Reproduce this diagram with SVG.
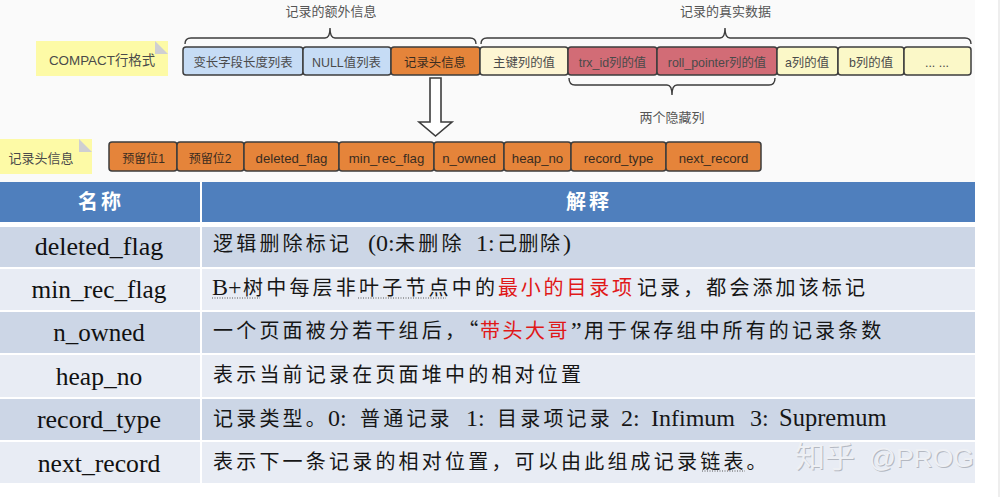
<svg xmlns="http://www.w3.org/2000/svg" width="1000" height="497" viewBox="0 0 1000 497">
<style>
.sans{font-family:"Liberation Sans","Noto Sans CJK SC",sans-serif}
.box{stroke:#3d3d3d;stroke-width:1.5}
.blue{fill:#c6dcf5}.org{fill:#e5843a}.cream{fill:#fdf5d3}.red{fill:#d26c76}.yel{fill:#fbf8c8}
.lbl{font-size:12.400px;fill:#4a4a4a;text-anchor:middle}
.cap{font-size:13px;fill:#555;text-anchor:middle}
.olbl{font-size:12.400px;fill:#3a2c20;text-anchor:middle}
.oL{font-size:13.200px}
.note{fill:#fdfaa6}.fold{fill:#cfcfd2}
.brace{fill:none;stroke:#3d3d3d;stroke-width:1.4}
.rowA{fill:#ccd6e6}.rowB{fill:#e8ecf4}
.name{font-family:"Liberation Serif","Noto Serif CJK SC",serif;font-size:26px;fill:#111;text-anchor:middle}
.desc{font-family:"Noto Sans CJK SC",sans-serif;font-size:20px;fill:#161616;letter-spacing:3.2px}
.lat{font-family:"Liberation Serif",serif;font-size:24px;letter-spacing:0}
.hd{font-family:"Noto Sans CJK SC",sans-serif;font-size:20px;font-weight:700;fill:#fff;text-anchor:middle;letter-spacing:3px}
.r{fill:#e01818}
.dot{stroke:#555;stroke-width:1;stroke-dasharray:1 1.5}
</style>
<rect width="1000" height="497" fill="#fff"/>
<rect width="975" height="182" fill="#fafafa"/>
<rect x="998" width="2" height="497" fill="#eee"/>
<g id="note-compact"><rect class="note" x="36" y="41" width="132" height="35"/><path class="fold" d="M155 41L168 54H155Z"/><text class="sans" x="102" y="65" font-size="13.400" fill="#4a4a4a" text-anchor="middle">COMPACT行格式</text></g>
<g id="note-header"><rect class="note" x="0" y="139" width="92" height="35"/><path class="fold" d="M79 139L92 152H79Z"/><text class="sans" x="41" y="163" font-size="13" fill="#4a4a4a" text-anchor="middle">记录头信息</text></g>
<g id="compact-row" class="sans">
<g id="c1"><rect class="box blue" x="183" y="47" width="120" height="28" rx="3"/><text class="lbl" x="243" y="67">变长字段长度列表</text></g>
<g id="c2"><rect class="box blue" x="303" y="47" width="88" height="28" rx="3"/><text class="lbl" x="346.500" y="67">NULL值列表</text></g>
<g id="c3"><rect class="box org" x="391" y="47" width="89" height="28" rx="3"/><text class="olbl" x="435" y="67">记录头信息</text></g>
<g id="c4"><rect class="box cream" x="480" y="47" width="88" height="28" rx="3"/><text class="lbl" x="524" y="67">主键列的值</text></g>
<g id="c5"><rect class="box red" x="568" y="47" width="89" height="28" rx="3"/><text class="lbl" x="612.500" y="67">trx_id列的值</text></g>
<g id="c6"><rect class="box red" x="657" y="47" width="120" height="28" rx="3"/><text class="lbl" x="717" y="67">roll_pointer列的值</text></g>
<g id="c7"><rect class="box yel" x="777" y="47" width="61" height="28" rx="3"/><text class="lbl" x="807" y="67">a列的值</text></g>
<g id="c8"><rect class="box yel" x="838" y="47" width="66" height="28" rx="3"/><text class="lbl" x="871" y="67">b列的值</text></g>
<g id="c9"><rect class="box yel" x="904" y="47" width="67" height="28" rx="3"/><text class="lbl" x="937" y="67">... ...</text></g>
</g>
<g id="header-row" class="sans">
<g id="h1"><rect class="box org" x="109" y="142" width="68" height="29" rx="3"/><text class="olbl" x="143.500" y="163" style="font-size:12px">预留位1</text></g>
<g id="h2"><rect class="box org" x="177" y="142" width="67" height="29" rx="3"/><text class="olbl" x="210" y="163" style="font-size:12px">预留位2</text></g>
<g id="h3"><rect class="box org" x="244" y="142" width="95" height="29" rx="3"/><text class="olbl oL" x="291.500" y="163">deleted_flag</text></g>
<g id="h4"><rect class="box org" x="339" y="142" width="95" height="29" rx="3"/><text class="olbl oL" x="386.500" y="163">min_rec_flag</text></g>
<g id="h5"><rect class="box org" x="434" y="142" width="70" height="29" rx="3"/><text class="olbl oL" x="469" y="163">n_owned</text></g>
<g id="h6"><rect class="box org" x="504" y="142" width="67" height="29" rx="3"/><text class="olbl oL" x="537.500" y="163">heap_no</text></g>
<g id="h7"><rect class="box org" x="571" y="142" width="95" height="29" rx="3"/><text class="olbl oL" x="618.500" y="163">record_type</text></g>
<g id="h8"><rect class="box org" x="666" y="142" width="95" height="29" rx="3"/><text class="olbl oL" x="713.500" y="163">next_record</text></g>
</g>
<g id="connectors">
<path class="brace" d="M185 44Q185 38 191 38H325Q330 38 330 28Q330 38 335 38H470Q476 38 476 44"/>
<path class="brace" d="M481 44Q481 38 487 38H720Q725 38 725 28Q725 38 730 38H965Q971 38 971 44"/>
<path class="brace" d="M569 78Q569 85 575 85H667Q672 85 672 95Q672 85 677 85H769Q775 85 775 78"/>
<path d="M430 78H441V122H452L435.500 136L419 122H430Z" fill="#fff" stroke="#3d3d3d" stroke-width="1.6"/>
</g>
<g class="sans">
<text class="cap" x="331" y="16">记录的额外信息</text>
<text class="cap" x="725.500" y="16">记录的真实数据</text>
<text class="cap" x="672" y="122">两个隐藏列</text>
</g>
<g id="table">
<rect x="0" y="182" width="200" height="40" fill="#4f7fbd"/><rect x="202" y="182" width="773" height="40" fill="#4f7fbd"/>
<rect class="rowA" x="0" y="227" width="200" height="40"/><rect class="rowA" x="202" y="227" width="773" height="40"/>
<rect class="rowB" x="0" y="269" width="200" height="41"/><rect class="rowB" x="202" y="269" width="773" height="41"/>
<rect class="rowA" x="0" y="312" width="200" height="41"/><rect class="rowA" x="202" y="312" width="773" height="41"/>
<rect class="rowB" x="0" y="355" width="200" height="42"/><rect class="rowB" x="202" y="355" width="773" height="42"/>
<rect class="rowA" x="0" y="399" width="200" height="41"/><rect class="rowA" x="202" y="399" width="773" height="41"/>
<rect class="rowB" x="0" y="442" width="200" height="41"/><rect class="rowB" x="202" y="442" width="773" height="41"/>
<text class="hd" x="101" y="209">名称</text><text class="hd" x="589" y="209">解释</text>
<text class="name" x="99" y="255">deleted_flag</text>
<text class="name" x="99" y="298" style="font-size:25.300px">min_rec_flag</text>
<text class="name" x="99" y="341" style="font-size:25px">n_owned</text>
<text class="name" x="99" y="385" style="font-size:25.500px">heap_no</text>
<text class="name" x="99" y="428">record_type</text>
<text class="name" x="99" y="472" style="font-size:25.700px">next_record</text>
<text class="desc" x="213" y="251">逻辑删除标记<tspan class="lat" x="368">(0:</tspan><tspan x="395">未删除</tspan><tspan class="lat" x="476">1:</tspan><tspan x="497" style="letter-spacing:1.500px">己删除</tspan><tspan class="lat" x="563">)</tspan></text>
<text class="desc" x="212" y="295"><tspan class="lat">B+</tspan><tspan x="243">树中每层非叶子节点中的</tspan><tspan class="r" x="498" style="letter-spacing:2.800px">最小的目录项</tspan><tspan x="637" style="letter-spacing:3.100px">记录，都会添加该标记</tspan></text>
<text class="desc" x="213" y="338">一个页面被分若干组后，“<tspan class="r" x="480" style="letter-spacing:2.500px">带头大哥</tspan><tspan class="lat" x="571">”</tspan><tspan x="584" style="letter-spacing:3.100px">用于保存组中所有的记录条数</tspan></text>
<text class="desc" x="213" y="382">表示当前记录在页面堆中的相对位置</text>
<text class="desc" x="213" y="426">记录类型。<tspan class="lat" x="328">0:</tspan><tspan x="360">普通记录</tspan><tspan class="lat" x="466">1:</tspan><tspan x="497">目录项记录</tspan><tspan class="lat" x="621">2:</tspan><tspan class="lat" x="651">Infimum</tspan><tspan class="lat" x="750">3:</tspan><tspan class="lat" x="779" style="font-size:24.500px">Supremum</tspan></text>
<text class="desc" x="213" y="469">表示下一条记录的相对位置，可以由此组成记录链表。</text>
<line class="dot" x1="212" y1="298" x2="260" y2="298"/>
<line class="dot" x1="358" y1="298" x2="446" y2="298"/>
<line class="dot" x1="702" y1="471" x2="745" y2="471"/>
</g>
<g id="watermark"><text class="sans" font-size="30" fill="#8a8f98" opacity=".55" transform="translate(1 1)" y="467"><tspan x="795">知乎</tspan><tspan x="869" font-size="26.500">@PROG</tspan></text><text class="sans" font-size="30" fill="#eef0f4" y="467"><tspan x="795">知乎</tspan><tspan x="869" font-size="26.500">@PROG</tspan></text></g>
</svg>
